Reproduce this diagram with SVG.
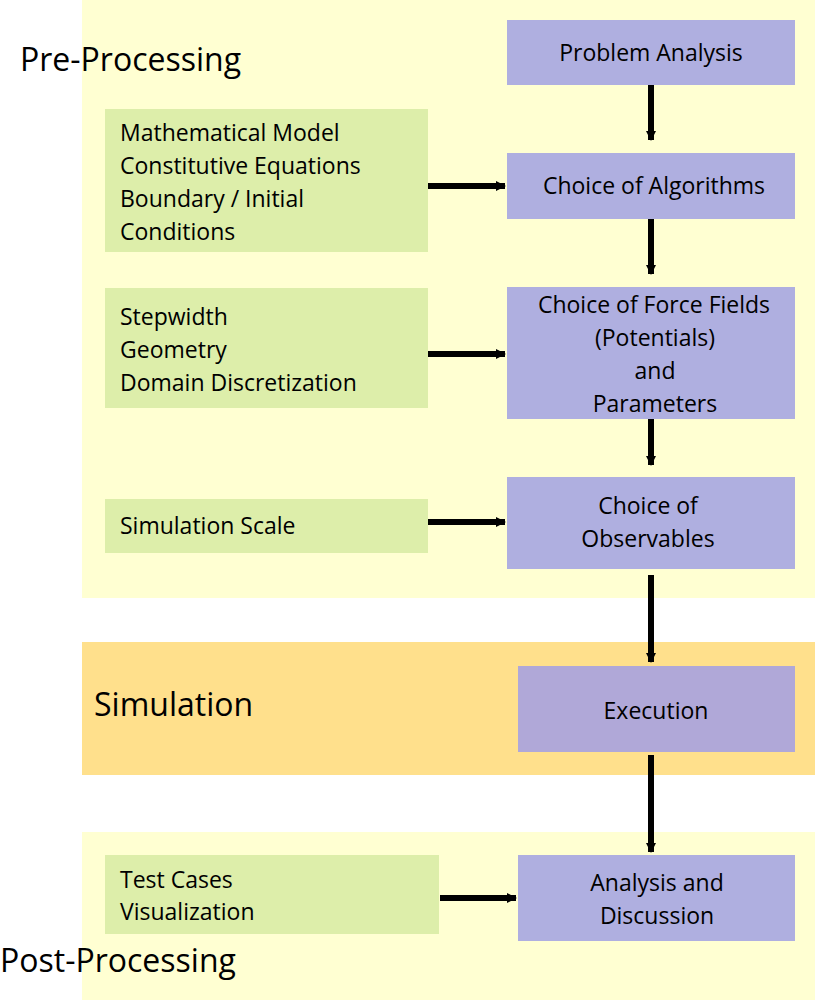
<svg xmlns="http://www.w3.org/2000/svg" width="819" height="1000" viewBox="0 0 819 1000">
<defs>
<marker id="ah" markerWidth="10" markerHeight="10" refX="9" refY="5" orient="auto" markerUnits="userSpaceOnUse" viewBox="0 0 10 10"><path d="M0,0 L10,5 L0,10 z" fill="#000"/></marker>
<style>
text{font-family:"Open Sans","DejaVu Sans",sans-serif;fill:#000}
.b{fill:#AFAFE0}
.g{fill:#DDEEAA}
.t{font-size:23px}
.h{font-size:32px}
.c{text-anchor:middle}
.a{stroke:#000;stroke-width:6;fill:none}
</style>
</defs>
<rect width="819" height="1000" fill="#fff"/>
<rect x="82" y="0" width="733" height="598" fill="#FFFFD2"/>
<rect x="82" y="642" width="733" height="133" fill="#FFE08C"/>
<rect x="82" y="832" width="733" height="168" fill="#FFFFD2"/>
<text class="h" x="20" y="71">Pre-Processing</text>
<text class="h" x="94" y="716">Simulation</text>
<text class="h" x="0" y="972">Post-Processing</text>
<g id="problem"><rect class="b" x="507" y="20" width="288" height="65"/><text class="t c" x="651" y="61">Problem Analysis</text></g>
<g id="algorithms"><rect class="b" x="507" y="153" width="288" height="66"/><text class="t c" x="654" y="194">Choice of Algorithms</text></g>
<g id="forcefields"><rect class="b" x="507" y="287" width="288" height="132"/><text class="t c" x="654" y="313">Choice of Force Fields</text><text class="t c" x="655" y="346">(Potentials)</text><text class="t c" x="655" y="379">and</text><text class="t c" x="655" y="412">Parameters</text></g>
<g id="observables"><rect class="b" x="507" y="477" width="288" height="92"/><text class="t c" x="648" y="514">Choice of</text><text class="t c" x="648" y="547">Observables</text></g>
<g id="execution"><rect class="b" x="518" y="666" width="277" height="86" fill="#B0A8D8" style="fill:#B0A8D8"/><text class="t c" x="656" y="719">Execution</text></g>
<g id="analysis"><rect class="b" x="518" y="855" width="277" height="86"/><text class="t c" x="657" y="891">Analysis and</text><text class="t c" x="657" y="924">Discussion</text></g>
<g id="model"><rect class="g" x="105" y="109" width="323" height="143"/><text class="t" x="120" y="141">Mathematical Model</text><text class="t" x="120" y="174">Constitutive Equations</text><text class="t" x="120" y="207">Boundary / Initial</text><text class="t" x="120" y="240">Conditions</text></g>
<g id="stepwidth"><rect class="g" x="105" y="288" width="323" height="120"/><text class="t" x="120" y="325">Stepwidth</text><text class="t" x="120" y="358">Geometry</text><text class="t" x="120" y="391">Domain Discretization</text></g>
<g id="scale"><rect class="g" x="105" y="499" width="323" height="54"/><text class="t" x="120" y="534">Simulation Scale</text></g>
<g id="tests"><rect class="g" x="105" y="855" width="334" height="79"/><text class="t" x="120" y="888">Test Cases</text><text class="t" x="120" y="920">Visualization</text></g>
<g id="connectors">
<line class="a" x1="651" y1="85" x2="651" y2="140" marker-end="url(#ah)"/>
<line class="a" x1="651" y1="219" x2="651" y2="274" marker-end="url(#ah)"/>
<line class="a" x1="651" y1="419" x2="651" y2="465" marker-end="url(#ah)"/>
<line class="a" x1="651" y1="575" x2="651" y2="662" marker-end="url(#ah)"/>
<line class="a" x1="651" y1="755" x2="651" y2="852" marker-end="url(#ah)"/>
<line class="a" x1="428" y1="186" x2="505" y2="186" marker-end="url(#ah)"/>
<line class="a" x1="428" y1="354" x2="505" y2="354" marker-end="url(#ah)"/>
<line class="a" x1="428" y1="522" x2="505" y2="522" marker-end="url(#ah)"/>
<line class="a" x1="440" y1="898" x2="516" y2="898" marker-end="url(#ah)"/>
</g>
</svg>
